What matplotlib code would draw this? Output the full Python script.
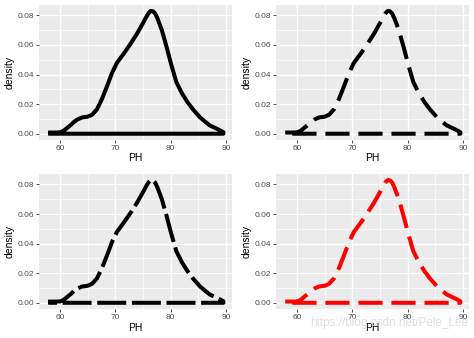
import matplotlib
matplotlib.use("Agg")
import matplotlib.pyplot as plt
from matplotlib.ticker import MultipleLocator

plt.rcParams['font.family'] = ['Liberation Sans', 'DejaVu Sans']

# density curve of PH
ph = [57.9, 59.0, 60.0, 60.7, 61.5, 62.0, 62.5, 63.1, 64.0, 65.0, 65.8, 66.7,
      67.6, 68.5, 69.4, 70.3, 71.5, 72.7, 73.9, 75.1, 75.6, 76.0, 76.4, 76.8,
      77.2, 77.6, 78.4, 79.3, 80.0, 81.0, 82.0, 83.0, 84.0, 85.3, 87.0, 88.9,
      89.5]
density = [0.0008, 0.0008, 0.0009, 0.0020, 0.0045, 0.0060, 0.0078, 0.0095,
           0.0110, 0.0115, 0.0128, 0.0165, 0.0235, 0.0320, 0.0410, 0.0480,
           0.0540, 0.0605, 0.0675, 0.0755, 0.0790, 0.0815, 0.0830, 0.0828,
           0.0812, 0.0780, 0.0700, 0.0580, 0.0480, 0.0350, 0.0275, 0.0215,
           0.0165, 0.0110, 0.0057, 0.0023, 0.0010]

x_ticks = [60, 70, 80, 90]
y_ticks = [0.00, 0.02, 0.04, 0.06, 0.08]

# outline of the density polygon: curve, then back along the baseline
x_line = ph + [ph[-1], ph[0]]
y_line = density + [0.0, 0.0]

panels = [
    # (left, bottom, colour, dashes)
    (0.083, 0.586, 'black', None),
    (0.583, 0.586, 'black', (6.0, 2.2)),
    (0.083, 0.0858, 'black', (7.2, 1.4)),
    (0.583, 0.0858, '#FF0000', (6.0, 2.2)),
]

fig = plt.figure(figsize=(4.74, 3.38), dpi=100)

for left, bottom, color, dashes in panels:
    ax = fig.add_axes([left, bottom, 0.407, 0.400])
    ax.set_facecolor('#EBEBEB')
    for s in ax.spines.values():
        s.set_visible(False)
    line, = ax.plot(x_line, y_line, color=color, lw=2.9,
                    solid_capstyle='butt', dash_capstyle='butt',
                    solid_joinstyle='round', dash_joinstyle='round')
    if dashes is not None:
        line.set_dashes(dashes)
    ax.set_xlim(56.3, 91.1)
    ax.set_ylim(-0.0042, 0.0872)
    ax.set_xticks(x_ticks)
    ax.set_yticks(y_ticks)
    ax.set_yticklabels([f"{v:.2f}" for v in y_ticks])
    ax.xaxis.set_minor_locator(MultipleLocator(5))
    ax.yaxis.set_minor_locator(MultipleLocator(0.01))
    ax.grid(which='major', color='white', lw=1.0)
    ax.grid(which='minor', color='white', lw=0.5)
    ax.set_axisbelow(True)
    ax.tick_params(which='major', length=2.2, width=0.6, color='#333333',
                   labelsize=6, labelcolor='#4D4D4D', pad=1.5)
    ax.tick_params(which='minor', length=0)
    ax.set_xlabel('PH', fontsize=7.5, labelpad=1)
    ax.set_ylabel('density', fontsize=7.5, labelpad=2)

# faint watermark in the lower right corner
fig.text(0.988, 0.045, 'https://blog.csdn.net/Pele_Lee', ha='right', va='center',
         fontsize=8.5, color='#DCDCDC', alpha=0.9)

fig.savefig('out.png', dpi=100)
